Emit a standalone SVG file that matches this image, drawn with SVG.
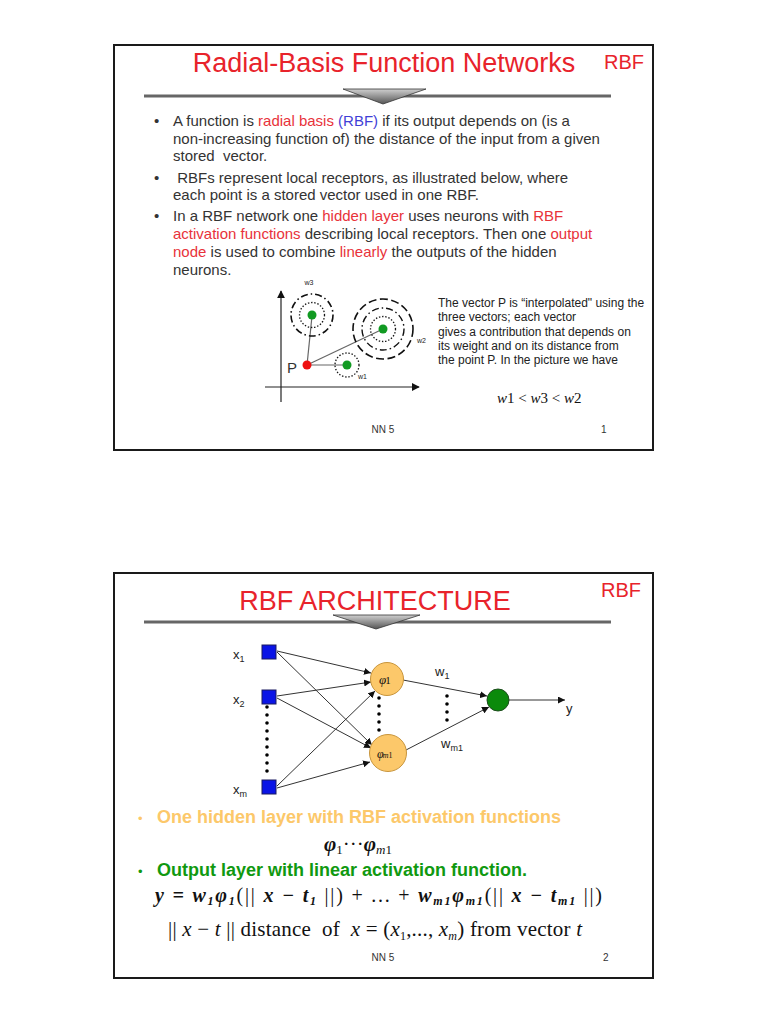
<svg xmlns="http://www.w3.org/2000/svg" width="768" height="1024" viewBox="0 0 768 1024">
<style>
.frame{fill:#fff;stroke:#1a1a1a;stroke-width:2}
.title{font-family:"Liberation Sans",Arial,sans-serif;fill:#e8232b;text-anchor:middle}
.tag{font-family:"Liberation Sans",Arial,sans-serif;fill:#e8232b;font-size:20px}
.body{font-family:"Liberation Sans",Arial,sans-serif;font-size:15px;fill:#333}
.red{fill:#e8323a}
.blue{fill:#3f3fd6}
.small{font-family:"Liberation Sans",Arial,sans-serif;font-size:12px;fill:#222}
.foot{font-family:"Liberation Sans",Arial,sans-serif;font-size:10px;fill:#333}
.math{font-family:"Liberation Serif","Times New Roman",serif;fill:#111}
.rule{stroke:#666;stroke-width:3}
.edge{stroke:#333;stroke-width:1;fill:none;marker-end:url(#ah)}
.gline{stroke:#666;stroke-width:1.2;fill:none}
.dots{stroke:#000;stroke-width:3.6;stroke-linecap:round;stroke-dasharray:0 8;fill:none}
.sq{fill:#0a14e6;stroke:#1a1a60;stroke-width:1}
.hid{fill:#fcc86a;stroke:#c8953c;stroke-width:1}
.lab{font-family:"Liberation Sans",Arial,sans-serif;font-size:13px;fill:#222}
</style>
<defs>
<linearGradient id="tri" x1="0" y1="0" x2="0" y2="1">
<stop offset="0" stop-color="#cfcfcf"/>
<stop offset="1" stop-color="#555"/>
</linearGradient>
<marker id="ah" viewBox="0 0 10 10" refX="10" refY="5" markerWidth="7" markerHeight="7" orient="auto" markerUnits="userSpaceOnUse">
<path d="M0,0 L10,5 L0,10 z" fill="#111"/>
</marker>
<marker id="axa" viewBox="0 0 10 10" refX="9" refY="5" markerWidth="8" markerHeight="8" orient="auto" markerUnits="userSpaceOnUse">
<path d="M0,0 L10,5 L0,10 z" fill="#111"/>
</marker>
</defs>
<rect width="768" height="1024" fill="#fff"/>

<!-- Slide 1 -->
<g id="slide1">
<rect class="frame" x="114" y="45" width="539" height="405"/>
<text class="title" x="384" y="72" font-size="27">Radial-Basis Function Networks</text>
<text class="tag" x="604" y="69">RBF</text>
<line class="rule" x1="144" y1="96" x2="611" y2="96"/>
<polygon points="343,89 426,89 383,104" fill="url(#tri)" stroke="#333" stroke-width="0.8"/>
<g class="body">
<text x="154" y="126">•</text>
<text x="173" y="126">A function is <tspan class="red">radial basis</tspan> <tspan class="blue">(RBF)</tspan> if its output depends on (is a</text>
<text x="173" y="144">non-increasing function of) the distance of the input from a given</text>
<text x="173" y="161">stored&#160; vector.</text>
<text x="154" y="183">•</text>
<text x="173" y="183">&#160;RBFs represent local receptors, as illustrated below, where</text>
<text x="173" y="200">each point is a stored vector used in one RBF.</text>
<text x="154" y="221">•</text>
<text x="173" y="221">In a RBF network one <tspan class="red">hidden layer</tspan> uses neurons with <tspan class="red">RBF</tspan></text>
<text x="173" y="239"><tspan class="red">activation functions</tspan> describing local receptors. Then one <tspan class="red">output</tspan></text>
<text x="173" y="257"><tspan class="red">node</tspan> is used to combine <tspan class="red">linearly</tspan> the outputs of the hidden</text>
<text x="173" y="275">neurons.</text>
</g>
</g>

<g id="receptor-plot">
<line x1="281" y1="402" x2="281" y2="291" stroke="#222" stroke-width="1.2" marker-end="url(#axa)"/>
<line x1="265" y1="387" x2="419" y2="387" stroke="#222" stroke-width="1.2" marker-end="url(#axa)"/>
<line class="gline" x1="307" y1="365" x2="312" y2="316"/>
<line class="gline" x1="307" y1="365" x2="383" y2="329"/>
<line class="gline" x1="307" y1="365" x2="347" y2="365"/>
<g id="w3">
<circle cx="312" cy="315" r="21" fill="none" stroke="#111" stroke-width="1.6" stroke-dasharray="7 3 1.5 3"/>
<circle cx="312" cy="315" r="12.5" fill="none" stroke="#111" stroke-width="1.3" stroke-dasharray="1.4 1.8"/>
<circle cx="312" cy="315" r="4.5" fill="#119a22"/>
<text x="309" y="285" font-family="Liberation Sans,Arial,sans-serif" font-size="7" fill="#222" text-anchor="middle">w3</text>
</g>
<g id="w2">
<circle cx="383" cy="329" r="30" fill="none" stroke="#111" stroke-width="1.6" stroke-dasharray="8 3.5"/>
<circle cx="383" cy="329" r="21" fill="none" stroke="#111" stroke-width="1.4" stroke-dasharray="7 3 1.5 3"/>
<circle cx="383" cy="329" r="12.5" fill="none" stroke="#111" stroke-width="1.3" stroke-dasharray="1.4 1.8"/>
<circle cx="383" cy="329" r="4.5" fill="#119a22"/>
<text x="417" y="343" font-family="Liberation Sans,Arial,sans-serif" font-size="7" fill="#222">w2</text>
</g>
<g id="w1">
<circle cx="347" cy="365" r="12" fill="none" stroke="#111" stroke-width="1.3" stroke-dasharray="1.4 1.8"/>
<circle cx="347" cy="365" r="4.5" fill="#119a22"/>
<text x="358" y="379" font-family="Liberation Sans,Arial,sans-serif" font-size="7" fill="#222">w1</text>
</g>
<g id="P">
<circle cx="307" cy="365" r="4.5" fill="#ee1111"/>
<text x="287" y="373" font-family="Liberation Sans,Arial,sans-serif" font-size="15" fill="#333">P</text>
</g>
</g>

<g id="note1" class="small">
<text x="438" y="307">The vector P is “interpolated" using the</text>
<text x="438" y="321">three vectors; each vector</text>
<text x="438" y="336">gives a contribution that depends on</text>
<text x="438" y="350">its weight and on its distance from</text>
<text x="438" y="364">the point P. In the picture we have</text>
<text class="math" x="497" y="403" font-size="15"><tspan font-style="italic">w</tspan>1 &lt; <tspan font-style="italic">w</tspan>3 &lt; <tspan font-style="italic">w</tspan>2</text>
</g>
<text class="foot" x="383" y="433" text-anchor="middle">NN 5</text>
<text class="foot" x="601" y="433">1</text>

<!-- Slide 2 -->
<g id="slide2">
<rect class="frame" x="114" y="573" width="539" height="405"/>
<text class="title" x="375" y="610" font-size="27">RBF ARCHITECTURE</text>
<text class="tag" x="601" y="597">RBF</text>
<line class="rule" x1="144" y1="622" x2="611" y2="622"/>
<polygon points="333,615 420,615 376,629" fill="url(#tri)" stroke="#333" stroke-width="0.8"/>
</g>

<g id="connectors">
<line class="edge" x1="277" y1="651" x2="371" y2="673"/>
<line class="edge" x1="277" y1="652" x2="372" y2="745"/>
<line class="edge" x1="277" y1="696" x2="371" y2="682"/>
<line class="edge" x1="277" y1="698" x2="371" y2="748"/>
<line class="edge" x1="277" y1="786" x2="375" y2="691"/>
<line class="edge" x1="277" y1="788" x2="370" y2="762"/>
<line class="edge" x1="403" y1="680" x2="487" y2="696"/>
<line class="edge" x1="406" y1="750" x2="489" y2="707"/>
<line class="edge" x1="509" y1="700" x2="565" y2="700"/>
<line class="dots" x1="267" y1="707" x2="267" y2="774"/>
<line class="dots" x1="379" y1="698" x2="379" y2="738"/>
<line class="dots" x1="447" y1="696" x2="447" y2="722"/>
</g>

<g id="x1"><rect class="sq" x="262" y="645" width="14" height="14"/><text class="lab" x="233" y="659">x<tspan font-size="9" dy="3">1</tspan></text></g>
<g id="x2"><rect class="sq" x="262" y="690" width="14" height="14"/><text class="lab" x="233" y="704">x<tspan font-size="9" dy="3">2</tspan></text></g>
<g id="xm"><rect class="sq" x="262" y="780" width="14" height="14"/><text class="lab" x="233" y="794">x<tspan font-size="9" dy="3">m</tspan></text></g>
<g id="phi1"><circle class="hid" cx="387" cy="679" r="16.5"/><text class="math" x="379" y="684" font-size="13" font-style="italic">φ<tspan font-style="normal" font-size="11" dx="-1">1</tspan></text></g>
<g id="phim1"><circle class="hid" cx="388" cy="753" r="18.5"/><text class="math" x="377" y="758" font-size="12" font-style="italic">φ<tspan font-size="8" dx="-1">m</tspan><tspan font-style="normal" font-size="8">1</tspan></text></g>
<g id="out"><circle cx="498" cy="700" r="11" fill="#0b8a0b" stroke="#1d4d1d" stroke-width="1"/></g>
<text class="lab" x="566" y="713" font-size="14">y</text>
<text class="lab" x="435" y="676">w<tspan font-size="9" dy="3">1</tspan></text>
<text class="lab" x="441" y="748">w<tspan font-size="9" dy="3">m1</tspan></text>

<g id="bullets2">
<text x="138" y="823" font-family="Liberation Sans,Arial,sans-serif" font-size="13" fill="#fcc86a">•</text>
<text x="157" y="823" font-family="Liberation Sans,Arial,sans-serif" font-size="18" font-weight="bold" fill="#fcc86a">One hidden layer with RBF activation functions</text>
<text class="math" x="324" y="851" font-size="21" font-style="italic" font-weight="bold">φ<tspan font-size="13" font-weight="normal" font-style="normal" dy="3">1</tspan><tspan font-weight="normal" font-style="normal" dy="-3">···</tspan>φ<tspan font-size="13" font-weight="normal" dy="3">m</tspan><tspan font-size="13" font-weight="normal" font-style="normal">1</tspan></text>
<text x="138" y="876" font-family="Liberation Sans,Arial,sans-serif" font-size="13" fill="#109910">•</text>
<text x="157" y="876" font-family="Liberation Sans,Arial,sans-serif" font-size="18" font-weight="bold" fill="#109910">Output layer with linear activation function.</text>
<text class="math" x="155" y="902" font-size="20" font-style="italic" font-weight="bold" textLength="447" lengthAdjust="spacing">y = w<tspan font-size="12" dy="3">1</tspan><tspan dy="-3">φ</tspan><tspan font-size="12" dy="3">1</tspan><tspan dy="-3" font-style="normal" font-weight="normal">(||</tspan> x − t<tspan font-size="12" dy="3">1</tspan><tspan dy="-3" font-style="normal" font-weight="normal"> ||) + ... + </tspan>w<tspan font-size="12" dy="3">m1</tspan><tspan dy="-3">φ</tspan><tspan font-size="12" dy="3">m1</tspan><tspan dy="-3" font-style="normal" font-weight="normal">(||</tspan> x − t<tspan font-size="12" dy="3">m1</tspan><tspan dy="-3" font-style="normal" font-weight="normal"> ||)</tspan></text>
<text class="math" x="168" y="936" font-size="21" textLength="414" lengthAdjust="spacing">|| <tspan font-style="italic">x</tspan> − <tspan font-style="italic">t</tspan> || distance&#160; of&#160; <tspan font-style="italic">x</tspan> = (<tspan font-style="italic">x</tspan><tspan font-size="12" dy="4">1</tspan><tspan dy="-4">,..., </tspan><tspan font-style="italic">x</tspan><tspan font-size="12" font-style="italic" dy="4">m</tspan><tspan dy="-4">) from vector </tspan><tspan font-style="italic">t</tspan></text>
</g>
<text class="foot" x="383" y="961" text-anchor="middle">NN 5</text>
<text class="foot" x="603" y="961">2</text>
</svg>
